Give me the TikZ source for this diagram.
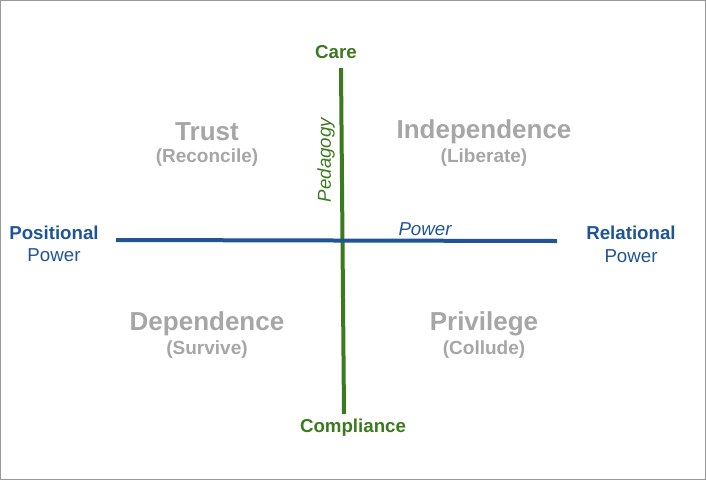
\documentclass[tikz,border=0pt]{standalone}
\usepackage{fontspec}
\setmainfont{Liberation Sans}
\definecolor{grn}{HTML}{3B7A1E}
\definecolor{blu}{HTML}{1F5596}
\definecolor{gry}{HTML}{A6A6A6}
\begin{document}
\begin{tikzpicture}[x=1pt,y=-1pt,
  big/.style={text=gry,font=\fontsize{26}{30}\selectfont\bfseries},
  sub/.style={text=gry,font=\fontsize{19}{22}\selectfont\bfseries},
  side/.style={text=blu,font=\fontsize{18.7}{22}\selectfont}]
\useasboundingbox (0,0) rectangle (706,480);
\draw[gray!80] (0.5,0.5) rectangle (705.5,479.5);
\coordinate (vt) at (341,68); \coordinate (vb) at (344,414);
\coordinate (hl) at (116,240); \coordinate (hr) at (557,241);
\draw[grn,line width=4pt] (vt) -- (vb);
\draw[blu,line width=4pt] (hl) -- (hr);
\node[text=grn,font=\fontsize{18.7}{22}\selectfont\bfseries] (care) at (336,52) {Care};
\node[text=grn,font=\fontsize{18.7}{22}\selectfont\bfseries] (comp) at (353,428) {Compliance};
\node[text=grn,rotate=90,font=\fontsize{18.7}{22}\selectfont\itshape] (ped) at (326,160) {Pedagogy};
\node[text=blu,font=\fontsize{18.7}{22}\selectfont\itshape] (pow) at (425,229) {Power};
\node[side,font=\fontsize{18.7}{22}\selectfont\bfseries] (pos) at (54,233) {Positional};
\node[side] (pos2) at (54,255) {Power};
\node[side,font=\fontsize{18.7}{22}\selectfont\bfseries] (rel) at (631,233) {Relational};
\node[side] (rel2) at (631,256) {Power};
\node[big] (t) at (207,132) {Trust};
\node[sub] (t2) at (207,158) {(Reconcile)};
\node[big] (i) at (484,132) {Independence};
\node[sub] (i2) at (484,158) {(Liberate)};
\node[big] (d) at (207,324) {Dependence};
\node[sub] (d2) at (207,350) {(Survive)};
\node[big] (p) at (484,324) {Privilege};
\node[sub] (p2) at (484,350) {(Collude)};
\end{tikzpicture}
\end{document}
